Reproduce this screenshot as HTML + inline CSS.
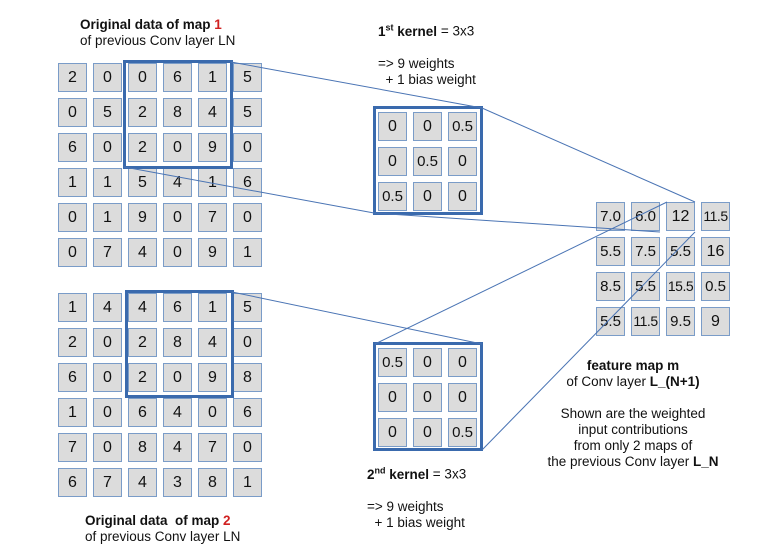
<!DOCTYPE html>
<html><head><meta charset="utf-8"><style>
body{margin:0;width:768px;height:560px;background:#fff;overflow:hidden;position:relative;font-family:"Liberation Sans",sans-serif;color:#111}
.c{position:absolute;width:29px;height:29px;background:#dcdcdc;border:1px solid #7a9cc8;box-sizing:border-box;font-size:16px;line-height:27px;text-align:center}
.k{position:absolute;border:3px solid #3a6aad;box-sizing:border-box}
.t{position:absolute;font-size:13.5px;line-height:16px;white-space:pre}
b{font-weight:bold}
.r{color:#d02020;font-weight:bold}
</style></head><body>
<div id="g"></div>
<div class="k" style="left:123px;top:60px;width:110px;height:109px"></div>
<div class="k" style="left:125px;top:290px;width:109px;height:108px"></div>
<div class="k" style="left:373px;top:106px;width:110px;height:109px"></div>
<div class="k" style="left:373px;top:342px;width:110px;height:109px"></div>
<svg width="768" height="560" style="position:absolute;left:0;top:0">
<g stroke="#4a74b4" stroke-width="1" fill="none">
<polyline points="231,62 482,108 695,202"/>
<polyline points="124,167 374,213 660,232"/>
<polyline points="232,292 482,344"/>
<polyline points="375,344 667,202"/>
<polyline points="482,450 695,232"/>
</g></svg>
<div class="t" style="left:80px;top:17px"><b>Original data of map <span class="r">1</span></b>
of previous Conv layer LN</div>
<div class="t" style="left:85px;top:513px"><b>Original data  of map <span class="r">2</span></b>
of previous Conv layer LN</div>
<div class="t" style="left:378px;top:19px"><b>1<sup style="font-size:9px">st</sup> kernel</b> = 3x3

=&gt; 9 weights
  + 1 bias weight</div>
<div class="t" style="left:367px;top:462px"><b>2<sup style="font-size:9px">nd</sup> kernel</b> = 3x3

=&gt; 9 weights
  + 1 bias weight</div>
<div class="t" style="left:543px;top:358px;text-align:center;width:180px;white-space:normal"><b>feature map m</b><br>of Conv layer <b>L_(N+1)</b><br><br>Shown are the weighted<br>input contributions<br>from only 2 maps of<br>the previous Conv layer <b>L_N</b></div>
<script>
function grid(x,y,data,cols){var h='';data.forEach(function(v,i){var r=Math.floor(i/cols),c=i%cols;var s=String(v).length;h+='<div class="c" style="left:'+(x+c*35)+'px;top:'+(y+r*35)+'px;'+(s>3?'font-size:14px;letter-spacing:-0.5px;':s>2?'font-size:15px;':'')+'">'+v+'</div>';});document.getElementById('g').insertAdjacentHTML('beforeend',h);}
grid(58,63,[2,0,0,6,1,5,0,5,2,8,4,5,6,0,2,0,9,0,1,1,5,4,1,6,0,1,9,0,7,0,0,7,4,0,9,1],6);
grid(58,293,[1,4,4,6,1,5,2,0,2,8,4,0,6,0,2,0,9,8,1,0,6,4,0,6,7,0,8,4,7,0,6,7,4,3,8,1],6);
grid(378,112,[0,0,0.5,0,0.5,0,0.5,0,0],3);
grid(378,348,[0.5,0,0,0,0,0,0,0,0.5],3);
grid(596,202,['7.0','6.0',12,11.5,5.5,7.5,5.5,16,8.5,5.5,15.5,0.5,5.5,11.5,9.5,9],4);
</script>
</body></html>
